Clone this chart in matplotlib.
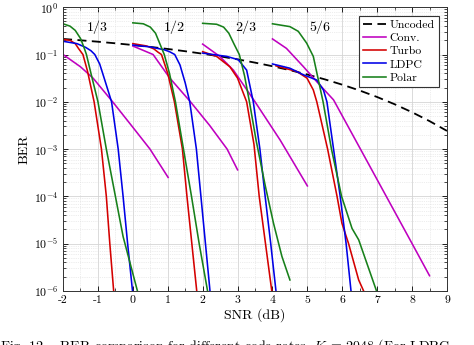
import numpy as np
import matplotlib
matplotlib.use("Agg")
import matplotlib.pyplot as plt
from matplotlib.ticker import FixedLocator, FuncFormatter, LogLocator, NullFormatter

plt.rcParams['font.family'] = 'cmr10'
plt.rcParams['mathtext.fontset'] = 'cm'
plt.rcParams['axes.unicode_minus'] = False
plt.rcParams['axes.formatter.use_mathtext'] = True

# Uncoded reference
snr_unc = [-2, -1.5, -1, -0.5, 0, 0.5, 1, 1.5, 2, 2.5, 3, 3.5, 4, 4.5, 5, 5.5, 6, 6.5, 7, 7.5, 8, 8.5, 9]
ber_unc = [0.2135, 0.200, 0.1865, 0.1726, 0.1587, 0.1449, 0.131, 0.1173, 0.104, 0.0912, 0.079, 0.0673,
           0.0565, 0.0466, 0.0377, 0.0298, 0.023, 0.0173, 0.0126, 0.00887, 0.006, 0.0039, 0.00242]

# rate 1/3  (BER given as log10)
conv13_x = [-2, -1.5, -1.14, -0.58, 0.0, 0.49, 1.01]
conv13_y = [-1.0, -1.26, -1.5, -2.0, -2.54, -3.0, -3.6]
turbo13_x = [-2, -1.8, -1.65, -1.55, -1.43, -1.3, -1.11, -0.9, -0.76, -0.66, -0.55]
turbo13_y = [-0.68, -0.70, -0.77, -0.88, -1.0, -1.35, -2.0, -3.0, -4.0, -5.0, -6.0]
ldpc13_x = [-2, -1.6, -1.35, -1.2, -1.09, -0.95, -0.8, -0.61, -0.42, -0.28, -0.15, -0.01]
ldpc13_y = [-0.72, -0.77, -0.85, -0.92, -1.0, -1.2, -1.55, -2.0, -3.0, -4.0, -5.0, -6.0]
polar13_x = [-2, -1.8, -1.65, -1.5, -1.4, -1.33, -1.2, -1.0, -0.76, -0.5, -0.28, 0.13]
polar13_y = [-0.35, -0.40, -0.49, -0.66, -0.85, -1.0, -1.4, -2.0, -3.0, -4.0, -4.85, -6.0]

# rate 1/2
conv12_x = [0, 0.58, 1.06, 1.65, 2.2, 2.7, 3.0]
conv12_y = [-0.82, -1.0, -1.5, -2.0, -2.5, -3.0, -3.44]
turbo12_x = [0, 0.4, 0.6, 0.72, 0.82, 1.0, 1.19, 1.42, 1.55, 1.69, 1.83]
turbo12_y = [-0.77, -0.82, -0.88, -0.95, -1.0, -1.4, -2.0, -3.0, -4.0, -5.0, -6.0]
ldpc12_x = [0, 0.5, 0.9, 1.05, 1.2, 1.35, 1.5, 1.63, 1.82, 1.95, 2.08, 2.21]
ldpc12_y = [-0.8, -0.84, -0.9, -0.94, -1.0, -1.22, -1.6, -2.0, -3.0, -4.0, -5.0, -6.0]
polar12_x = [0, 0.3, 0.5, 0.65, 0.8, 0.9, 1.05, 1.22, 1.45, 1.68, 1.9, 2.14]
polar12_y = [-0.33, -0.35, -0.42, -0.55, -0.82, -1.0, -1.4, -2.0, -3.0, -4.0, -5.0, -6.0]

# rate 2/3
conv23_x = [2, 2.49, 2.88, 3.5, 4.22, 5.0]
conv23_y = [-0.78, -1.04, -1.33, -2.0, -2.81, -3.78]
turbo23_x = [2, 2.4, 2.78, 3.0, 3.26, 3.47, 3.62, 3.8, 3.98]
turbo23_y = [-0.94, -1.04, -1.26, -1.5, -2.0, -2.9, -4.0, -5.0, -6.0]
ldpc23_x = [2, 2.69, 3.02, 3.26, 3.45, 3.64, 3.79, 3.95, 4.1]
ldpc23_y = [-0.97, -1.04, -1.11, -1.33, -2.0, -3.0, -4.0, -5.0, -6.0]
polar23_x = [2, 2.4, 2.6, 2.75, 2.9, 3.05, 3.2, 3.34, 3.53, 3.8, 4.03, 4.27, 4.5]
polar23_y = [-0.34, -0.36, -0.42, -0.55, -0.78, -1.0, -1.45, -2.0, -2.81, -3.8, -4.57, -5.27, -5.77]

# rate 5/6
conv56_x = [4.0, 4.4, 4.89, 5.3, 5.75, 6.52, 7.26, 8.0, 8.5]
conv56_y = [-0.67, -0.87, -1.26, -1.6, -1.96, -3.0, -4.0, -5.0, -5.68]
turbo56_x = [4.1, 4.7, 4.99, 5.17, 5.27, 5.58, 5.85, 5.99, 6.18, 6.47, 6.61]
turbo56_y = [-1.24, -1.36, -1.5, -1.75, -2.0, -3.0, -4.0, -4.57, -5.0, -5.77, -6.0]
ldpc56_x = [4.0, 4.5, 4.89, 5.27, 5.46, 5.56, 5.75, 5.94, 6.11, 6.25]
ldpc56_y = [-1.2, -1.29, -1.43, -1.54, -1.75, -2.0, -3.0, -4.0, -5.0, -6.0]
polar56_x = [4.0, 4.5, 4.74, 4.98, 5.17, 5.45, 5.69, 5.98, 6.28, 6.47, 6.98]
polar56_y = [-0.35, -0.41, -0.51, -0.76, -1.04, -2.0, -3.0, -4.0, -4.68, -4.92, -6.0]

rate_labels = ['1/3', '1/2', '2/3', '5/6']
rate_label_x = [-1.03, 1.18, 3.25, 5.37]

c_conv = '#bf00bf'
c_turbo = '#d40000'
c_ldpc = '#0000e6'
c_polar = '#17801a'

fig = plt.figure(figsize=(4.74, 3.45), dpi=100)
ax = fig.add_axes([0.133, 0.157, 0.81, 0.822])

lw = 1.15
ax.plot(snr_unc, ber_unc, color='black', lw=1.3, dashes=(5, 3), label='Uncoded')
groups = [
    (conv13_x, conv13_y, turbo13_x, turbo13_y, ldpc13_x, ldpc13_y, polar13_x, polar13_y),
    (conv12_x, conv12_y, turbo12_x, turbo12_y, ldpc12_x, ldpc12_y, polar12_x, polar12_y),
    (conv23_x, conv23_y, turbo23_x, turbo23_y, ldpc23_x, ldpc23_y, polar23_x, polar23_y),
    (conv56_x, conv56_y, turbo56_x, turbo56_y, ldpc56_x, ldpc56_y, polar56_x, polar56_y),
]
for i, g in enumerate(groups):
    cx, cy, tx, ty, lx, ly, px, py = g
    ax.plot(cx, 10.0 ** np.array(cy), color=c_conv, lw=lw, label='Conv.' if i == 0 else None)
    ax.plot(tx, 10.0 ** np.array(ty), color=c_turbo, lw=lw, label='Turbo' if i == 0 else None)
    ax.plot(lx, 10.0 ** np.array(ly), color=c_ldpc, lw=lw, label='LDPC' if i == 0 else None)
    ax.plot(px, 10.0 ** np.array(py), color=c_polar, lw=lw, label='Polar' if i == 0 else None)

for lab, x in zip(rate_labels, rate_label_x):
    ax.text(x, 0.38, lab, fontsize=10, ha='center', va='center')

ax.set_yscale('log')
ax.set_xlim(-2, 9)
ax.set_ylim(1e-6, 1)

ax.xaxis.set_major_locator(FixedLocator(range(-2, 10)))
ax.xaxis.set_major_formatter(FuncFormatter(lambda v, p: '%d' % v))
ax.xaxis.set_minor_locator(FixedLocator(np.arange(-2, 9.01, 0.5)))
ax.yaxis.set_major_locator(FixedLocator([10.0 ** k for k in range(-6, 1)]))
ax.yaxis.set_major_formatter(FuncFormatter(lambda v, p: r'$10^{%d}$' % round(np.log10(v))))
ax.yaxis.set_minor_locator(LogLocator(base=10, subs=np.arange(2, 10)))
ax.yaxis.set_minor_formatter(NullFormatter())

ax.tick_params(which='both', direction='in', top=True, right=True, labelsize=8.5)
ax.tick_params(which='major', length=3.5, width=0.6)
ax.tick_params(which='minor', length=2, width=0.5)
ax.grid(which='major', color='#d4d4d4', lw=0.6, ls='-')
ax.grid(which='minor', color='#dcdcdc', lw=0.5, ls=':')
ax.set_axisbelow(True)
for s in ax.spines.values():
    s.set_linewidth(0.7)
    s.set_color('#333333')

ax.set_xlabel('SNR (dB)', fontsize=10, labelpad=2)
ax.set_ylabel('BER', fontsize=10, labelpad=2)

leg = ax.legend(loc='upper right', fontsize=8.5, handlelength=1.9, handletextpad=0.3,
                labelspacing=0.25, borderpad=0.35, borderaxespad=0.7, fancybox=False,
                framealpha=1)
leg.get_frame().set_edgecolor('#333333')
leg.get_frame().set_linewidth(0.8)

fig.text(0.0, 0.024, r'Fig. 12.   BER comparison for different code rates. $K$ = 2048 (For LDPC',
         fontsize=10, va='top', ha='left')

fig.savefig('out.png', dpi=100)
